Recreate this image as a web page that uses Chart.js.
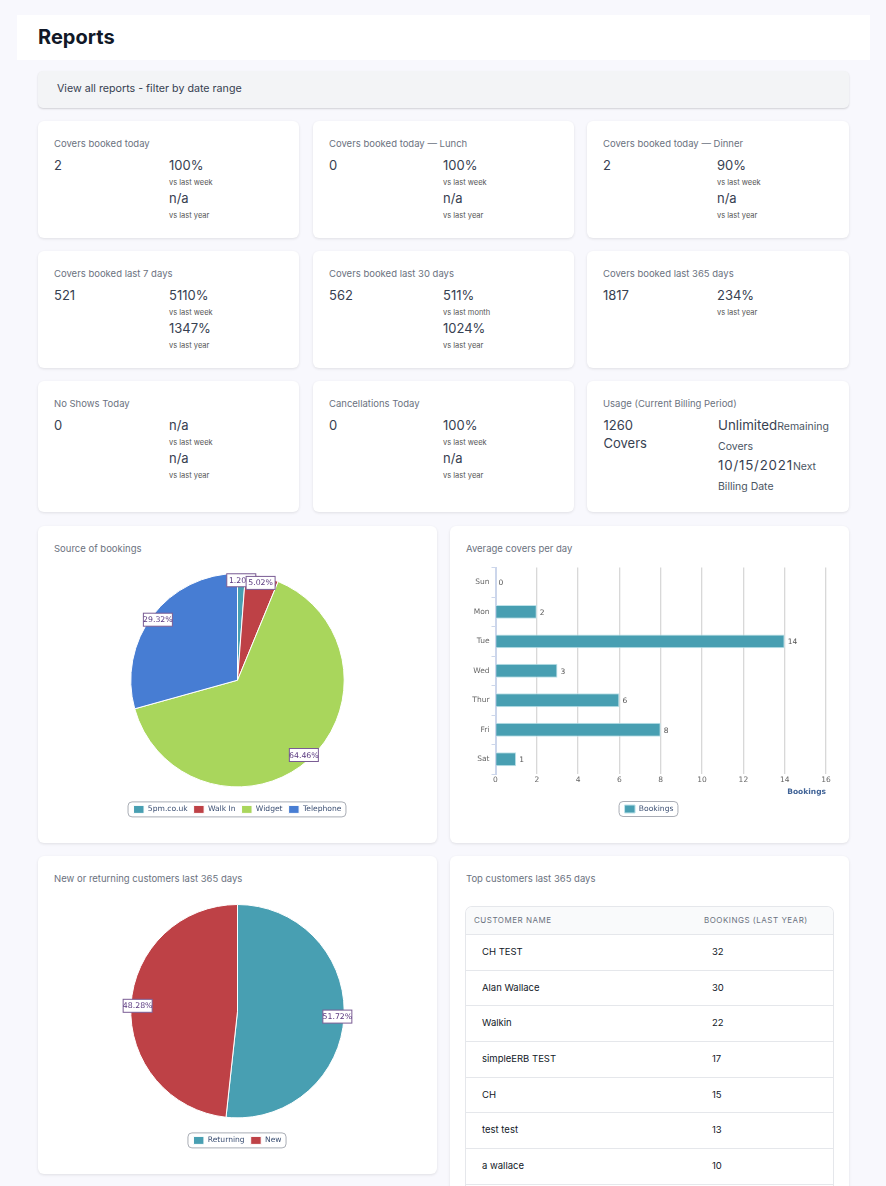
<!DOCTYPE html>
<html>
<head>
<meta charset="utf-8">
<title>Reports</title>
<script src="https://cdn.jsdelivr.net/npm/chart.js@4"></script>
<style>
  html, body { margin: 0; padding: 0; }
  body { width: 886px; height: 1186px; overflow: hidden; position: relative; background: #f8f8fd; font-family: Inter, "Noto Sans", sans-serif; color: #374151; }
  .abs { position: absolute; }
  .header { left: 17px; top: 15px; width: 853px; height: 45px; background: #fff; }
  .header h1 { margin: 0; position: absolute; left: 21px; top: 9px; font-size: 20px; line-height: 26px; font-weight: 700; color: #111827; }
  .filter { left: 38px; top: 71px; width: 811px; height: 37px; background: #f3f4f6; border-radius: 5px; box-shadow: 0 1px 2px rgba(0,0,0,.16); font-size: 10.7px; line-height: 35px; text-indent: 19px; color: #374151; }
  .card { position: absolute; background: #fff; border-radius: 6px; box-shadow: 0 1px 3px rgba(0,0,0,.1); }
  .title { position: absolute; left: 16px; top: 16px; font-size: 9.5px; line-height: 14px; color: #6b7280; white-space: nowrap; }
  .val { position: absolute; font-size: 13px; line-height: 18px; color: #374151; white-space: nowrap; }
  .sub { position: absolute; font-size: 7.5px; line-height: 10px; color: #555; white-space: nowrap; }
  .usage { position: absolute; left: 131px; top: 35.5px; width: 120px; font-size: 10.5px; line-height: 20.3px; color: #4b5563; }
  .usage b { font-weight: 400; font-size: 13.3px; line-height: 1; color: #374151; }
  canvas { position: absolute; left: 0; top: 0; }
  .tbl { position: absolute; left: 16px; top: 51px; width: 367px; height: 300px; border-radius: 6px 6px 0 0; box-shadow: 0 0 0 1px #e5e7eb; overflow: hidden; }
  .thead { height: 27px; background: #f9fafb; border-bottom: 1px solid #e5e7eb; font-size: 8px; line-height: 26px; letter-spacing: .5px; color: #6b7280; position: relative; }
  .row { height: 34.7px; border-bottom: 1px solid #e5e7eb; position: relative; font-size: 9.5px; line-height: 34.4px; color: #111827; }
  .thead span, .row span { position: absolute; white-space: nowrap; }
</style>
</head>
<body>
<div class="abs header"><h1>Reports</h1></div>
<div class="abs filter">View all reports - filter by date range</div>
<div id="cards"></div>

<div class="card" style="left:38px;top:526px;width:399px;height:317px"><div class="title">Source of bookings</div><canvas id="sourceChart"></canvas></div>
<div class="card" style="left:450px;top:526px;width:399px;height:317px"><div class="title">Average covers per day</div><canvas id="dayChart" width="398" height="317" style="width:398px;height:317px"></canvas></div>
<div class="card" style="left:38px;top:856px;width:399px;height:318px"><div class="title">New or returning customers last 365 days</div><canvas id="newChart"></canvas></div>
<div class="card" style="left:450px;top:856px;width:399px;height:340px"><div class="title">Top customers last 365 days</div>
  <div class="tbl" id="customerTable"></div>
</div>

<script>
// Chart data
const sourceLabels = ['5pm.co.uk', 'Walk In', 'Widget', 'Telephone'];
const sourceShares = [1.20, 5.02, 64.46, 29.32];
const sourceColors = ['#489fb2', '#be4146', '#a9d65c', '#477dd3'];

const dayLabels = ['Sun', 'Mon', 'Tue', 'Wed', 'Thur', 'Fri', 'Sat'];
const dayCovers = [0, 2, 14, 3, 6, 8, 1];

const customerLabels = ['Returning', 'New'];
const customerShares = [51.72, 48.28];
const customerColors = ['#489fb2', '#be4146'];

const topNames = ['CH TEST', 'Alan Wallace', 'Walkin', 'simpleERB TEST', 'CH', 'test test', 'a wallace', ''];
const topBookings = ['32', '30', '22', '17', '15', '13', '10', ''];

// Stat cards: [title, main value, [[value, caption], ...]]
const statCards = [
  ['Covers booked today', '2', [['100%', 'vs last week'], ['n/a', 'vs last year']]],
  ['Covers booked today — Lunch', '0', [['100%', 'vs last week'], ['n/a', 'vs last year']]],
  ['Covers booked today — Dinner', '2', [['90%', 'vs last week'], ['n/a', 'vs last year']]],
  ['Covers booked last 7 days', '521', [['5110%', 'vs last week'], ['1347%', 'vs last year']]],
  ['Covers booked last 30 days', '562', [['511%', 'vs last month'], ['1024%', 'vs last year']]],
  ['Covers booked last 365 days', '1817', [['234%', 'vs last year']]],
  ['No Shows Today', '0', [['n/a', 'vs last week'], ['n/a', 'vs last year']]],
  ['Cancellations Today', '0', [['100%', 'vs last week'], ['n/a', 'vs last year']]]
];
const cardX = [38, 313, 587];
const cardY = [121, 251, 381];
const cardH = [117, 117, 131];

// build the stat cards
let cardsHtml = '';
statCards.forEach((c, i) => {
  const col = i % 3, row = Math.floor(i / 3);
  const inner = c[2].map((s, j) =>
    `<div class="val" style="left:${col === 0 ? 131 : 130}px;top:${35 + j * 33}px">${s[0]}</div>` +
    `<div class="sub" style="left:${col === 0 ? 131 : 130}px;top:${57 + j * 33}px">${s[1]}</div>`).join('');
  cardsHtml += `<div class="card" style="left:${cardX[col]}px;top:${cardY[row]}px;width:${col === 2 ? 262 : 261}px;height:${cardH[row]}px">` +
    `<div class="title">${c[0]}</div><div class="val" style="left:16px;top:35px">${c[1]}</div>${inner}</div>`;
});
cardsHtml += `<div class="card" style="left:587px;top:381px;width:262px;height:131px">` +
  `<div class="title">Usage (Current Billing Period)</div>` +
  `<div class="val" style="left:16.5px;top:35px">1260</div><div class="val" style="left:16.5px;top:53px">Covers</div>` +
  `<div class="usage"><b>Unlimited</b>Remaining Covers <b style="letter-spacing:.8px">10/15/2021</b>Next Billing Date</div></div>`;
document.getElementById('cards').innerHTML = cardsHtml;

// build the table
let tableHtml = '<div class="thead"><span style="left:8px">CUSTOMER NAME</span><span style="left:238px">BOOKINGS (LAST YEAR)</span></div>';
topNames.forEach((n, i) => {
  tableHtml += `<div class="row"><span style="left:16px">${n}</span><span style="left:246px">${topBookings[i]}</span></div>`;
});
document.getElementById('customerTable').innerHTML = tableHtml;

// rounded box around the legend
const legendBox = {
  id: 'legendBox',
  afterDraw(chart) {
    const items = chart.legend.legendHitBoxes;
    if (!items.length) return;
    const last = items[items.length - 1];
    const ctx = chart.ctx;
    ctx.save();
    ctx.strokeStyle = '#a9adb5';
    ctx.lineWidth = 1;
    ctx.beginPath();
    ctx.roundRect(items[0].left - 5.5, items[0].top - 3.5, last.left + last.width - items[0].left + 10, last.height + 7, 4);
    ctx.stroke();
    ctx.restore();
  }
};

// white percent tags on the pie slices
const pieTags = {
  id: 'pieTags',
  afterDatasetsDraw(chart) {
    const ctx = chart.ctx;
    ctx.save();
    ctx.font = '7.8px "DejaVu Sans"';
    ctx.textAlign = 'center';
    ctx.textBaseline = 'middle';
    chart.getDatasetMeta(0).data.forEach((arc, i) => {
      const mid = (arc.startAngle + arc.endAngle) / 2;
      const x = arc.x + Math.cos(mid) * 100;
      const y = arc.y + Math.sin(mid) * 100;
      const text = chart.data.datasets[0].data[i].toFixed(2) + '%';
      ctx.fillStyle = '#fff';
      ctx.strokeStyle = '#7a5c94';
      ctx.lineWidth = 1;
      ctx.fillRect(x - 14.5, y - 6.5, 29, 13);
      ctx.strokeRect(x - 14.5, y - 6.5, 29, 13);
      ctx.fillStyle = '#5b3a80';
      ctx.fillText(text, x, y + 0.5);
    });
    ctx.restore();
  }
};

// numbers at the end of the bars
const barValues = {
  id: 'barValues',
  afterDatasetsDraw(chart) {
    const ctx = chart.ctx;
    ctx.save();
    ctx.font = '7.5px "DejaVu Sans"';
    ctx.fillStyle = '#555';
    ctx.textBaseline = 'middle';
    chart.getDatasetMeta(0).data.forEach((bar, i) => {
      ctx.fillText(chart.data.datasets[0].data[i], bar.x + 3, bar.y + 1);
    });
    ctx.restore();
  }
};

const legendLabels = { boxWidth: 10.5, boxHeight: 8, padding: 6, color: '#3b4f73', font: { family: 'DejaVu Sans', size: 7.6 } };

function pieChart(id, labels, values, colors, pad, w, h) {
  const canvas = document.getElementById(id);
  canvas.style.width = w + 'px';
  canvas.style.height = h + 'px';
  canvas.width = w;
  canvas.height = h;
  return new Chart(canvas, {
    type: 'pie',
    data: { labels: labels, datasets: [{ data: values, backgroundColor: colors, borderColor: '#fff', borderWidth: 1 }] },
    options: {
      responsive: false,
      animation: false,
      layout: { padding: pad },
      plugins: {
        tooltip: { enabled: false },
        legend: {
          position: 'bottom',
          // empty title only keeps the gap between pie and legend
          title: { display: true, text: '', padding: 0, font: { size: 10 } },
          labels: legendLabels
        }
      }
    },
    plugins: [pieTags, legendBox]
  });
}

pieChart('sourceChart', sourceLabels, sourceShares, sourceColors, { top: 47, bottom: 19.6, left: 0, right: 0 }, 399, 317);
pieChart('newChart', customerLabels, customerShares, customerColors, { top: 48, bottom: 19.6, left: 0, right: 0 }, 399, 318);

new Chart(document.getElementById('dayChart'), {
  type: 'bar',
  data: {
    labels: dayLabels,
    datasets: [{
      label: 'Bookings',
      data: dayCovers,
      backgroundColor: '#489fb2',
      borderColor: '#bfe3ea',
      borderWidth: 1,
      barPercentage: 0.47,
      categoryPercentage: 1
    }]
  },
  options: {
    indexAxis: 'y',
    responsive: false,
    animation: false,
    // equal side padding keeps the legend centred in the card
    layout: { padding: { top: 41.6, right: 22, left: 22, bottom: 20 } },
    scales: {
      x: {
        min: 0,
        max: 16,
        ticks: { stepSize: 2, maxRotation: 0, color: '#666', padding: 2, font: { family: 'DejaVu Sans', size: 7.5 } },
        grid: { color: '#d8d8d8', lineWidth: 1.3, drawTicks: false },
        border: { display: false },
        title: { display: true, text: 'Bookings', align: 'end', color: '#3f6296', padding: { top: 1, bottom: 2 }, font: { family: 'DejaVu Sans', size: 7.5, weight: 'bold' } }
      },
      y: {
        afterFit: scale => { scale.width = 23.5; },
        ticks: { color: '#666', padding: 2, font: { family: 'DejaVu Sans', size: 7.5 } },
        grid: { drawOnChartArea: false, color: '#ccd6eb', tickLength: 4 },
        border: { color: '#ccd6eb', width: 2 }
      }
    },
    plugins: {
      tooltip: { enabled: false },
      legend: {
        position: 'bottom',
        labels: legendLabels
      }
    }
  },
  plugins: [barValues, legendBox]
});
</script>
</body>
</html>
